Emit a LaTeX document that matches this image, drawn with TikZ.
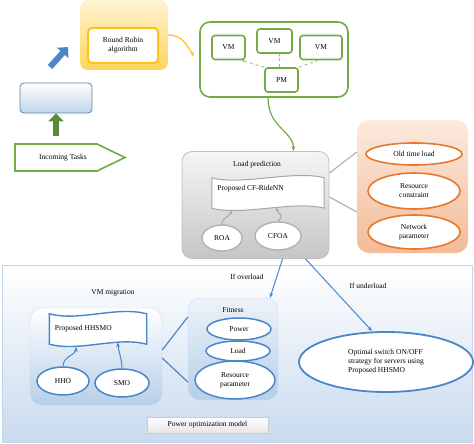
\documentclass[tikz,border=0pt]{standalone}
\usepackage{fontspec}
\setmainfont{Liberation Serif}
\usetikzlibrary{arrows.meta,shapes.geometric}

\definecolor{grn}{HTML}{6FAC46}
\definecolor{org}{HTML}{E9772E}
\definecolor{blu}{HTML}{4A86C8}
\definecolor{ylw}{HTML}{FFC21A}

% wavy document outline round a named node
\newcommand{\wavy}[2]{%
  \draw[#2] (#1.north west) .. controls +(30,8) and +(-30,-8) .. (#1.north east)
    -- (#1.south east) .. controls +(-30,-8) and +(30,8) .. (#1.south west) -- cycle;}

\begin{document}
\begin{tikzpicture}[x=1pt,y=-1pt,
    font=\fontsize{7.5}{9}\selectfont,
    vmbox/.style={draw=grn, line width=1.6pt, rounded corners=3pt, fill=white, minimum height=24pt},
    grayoval/.style={ellipse, draw=gray!60, line width=1.4pt, fill=white, inner sep=1pt},
    orgoval/.style={ellipse, draw=org, line width=1.6pt, fill=white, inner sep=1pt, align=center},
    bluoval/.style={ellipse, draw=blu, line width=1.5pt, fill=white, inner sep=1pt, align=center},
    fatarrow/.style={line width=6pt, -{Triangle[length=8pt,width=15pt]}},
    dasharrow/.style={grn!75, dashed, line width=0.8pt, -{Stealth[length=3pt]}},
    grayarrow/.style={gray!70, line width=1pt, -{Stealth[length=4pt]}},
    bluarrow/.style={blu, line width=1pt, -{Stealth[length=5pt]}}]

        \useasboundingbox (0,0) rectangle (474,444);

        % lower panel
        \node (panel) [draw=blu!35, top color=white, bottom color=blu!30, minimum width=470pt, minimum height=177pt] at (237,353.5) {};

        % round robin
        \node (rrbg) [rounded corners=8pt, top color=ylw!20, bottom color=ylw!70, minimum width=88pt, minimum height=70pt] at (124,35) {};
        \node (rr) [draw=ylw, line width=2pt, rounded corners=4pt, fill=white, minimum width=70pt, minimum height=35pt, align=center] at (123,45.5) {Round Robin\\algorithm};

        % task queue and incoming tasks
        \node (queue) [draw=blu!50!gray, line width=0.8pt, rounded corners=4pt, top color=white, bottom color=blu!35, minimum width=72pt, minimum height=30pt] at (56,98) {};
        \draw [draw=grn, line width=1.6pt, fill=white] (15,144) -- (97,144) -- (125,157.5) -- (97,171) -- (15,171) -- cycle;
        \node (task) at (63,157.5) {Incoming Tasks};
        \coordinate (bs) at (50,67);
        \coordinate (be) at (68,47);
        \coordinate (gs) at (56,136);

        % host with VMs
        \node (host) [draw=grn, line width=1.6pt, rounded corners=10pt, fill=white, minimum width=148pt, minimum height=75pt] at (274,59.5) {};
        \foreach \n/\x/\y/\w in {vma/228.5/47.5/33, vmb/274.5/41/35, vmc/321/47.5/42}
        {
          \node (\n) [vmbox, minimum width=\w pt] at (\x,\y) {VM};
        }
        \node (pm) [vmbox, minimum width=33pt] at (281.5,80) {PM};

        % load prediction
        \node (lp) [draw=gray!50, line width=0.8pt, rounded corners=10pt, top color=gray!8, bottom color=gray!45, minimum width=147pt, minimum height=107pt] at (255.5,205) {};
        \node (lpt) at (257,165) {Load prediction};
        \node (cf) [minimum width=112pt, minimum height=30pt] at (268,193) {};
        \wavy{cf}{draw=gray!70, line width=1pt, fill=white}
        \node (cft) [anchor=west] at ([xshift=2pt,yshift=4pt]cf.west) {Proposed CF-RideNN};
        \node (roa) [grayoval, minimum width=40pt, minimum height=26pt] at (222,238) {ROA};
        \node (cfoa) [grayoval, minimum width=46pt, minimum height=28pt] at (278,236) {CFOA};

        % inputs of load prediction
        \node (oc) [rounded corners=12pt, top color=org!15, bottom color=org!50, minimum width=111pt, minimum height=133pt] at (412.5,186.5) {};
        \node (old) [orgoval, minimum width=96pt, minimum height=22pt] at (414,154) {Old time load};
        \node (res) [orgoval, minimum width=92pt, minimum height=36pt] at (414,191) {Resource\\constraint};
        \node (net) [orgoval, minimum width=92pt, minimum height=34pt] at (414,232) {Network\\parameter};

        % VM migration
        \node (vmt) at (113,293) {VM migration};
        \node (mig) [draw=blu!30, rounded corners=12pt, top color=white, bottom color=blu!40, minimum width=132pt, minimum height=97pt] at (96,356.5) {};
        \node (hs) [minimum width=97pt, minimum height=30pt] at (98,329) {};
        \wavy{hs}{draw=blu, line width=1.4pt, fill=white}
        \node (hst) [anchor=west] at ([xshift=2pt]hs.west) {Proposed HHSMO};
        \node (hho) [bluoval, minimum width=52pt, minimum height=28pt] at (63,381) {HHO};
        \node (smo) [bluoval, minimum width=54pt, minimum height=28pt] at (122,383) {SMO};

        % fitness
        \node (fit) [draw=blu!30, rounded corners=12pt, top color=blu!10, bottom color=blu!40, minimum width=90pt, minimum height=102pt] at (233,349) {};
        \node (fitt) at (233,310) {Fitness};
        \node (pow) [bluoval, minimum width=64pt, minimum height=22pt] at (239,329) {Power};
        \node (lod) [bluoval, minimum width=64pt, minimum height=20pt] at (238,351) {Load};
        \node (rp) [bluoval, minimum width=80pt, minimum height=38pt] at (235,380) {Resource\\parameter};

        % model and switch strategy
        \node (pom) [draw=gray!40, top color=white, bottom color=gray!20, minimum width=121pt, minimum height=16pt] at (207.5,425) {Power optimization model};
        \node (opt) [bluoval, line width=1.8pt, align=left, minimum width=174pt, minimum height=60pt] at (386,362) {Optimal switch ON/OFF\\strategy for servers using\\Proposed HHSMO};
        \node (ovl) at (247,277) {If overload};
        \node (unl) at (368,286) {If underload};

        % connectors
        \draw [fatarrow, blu] (bs) -- (be);
        \draw [fatarrow, grn!80!black] (gs) -- (queue.south);
        \draw [ylw, line width=1.2pt, -{Stealth[length=5pt]}] (rrbg.east) .. controls +(14,0) and +(-8,-12) .. ([xshift=-5pt,yshift=3pt]host.west);
        \draw [dasharrow] (pm.north west) -- ([xshift=-4pt]vma.south east);
        \draw [dasharrow] ([xshift=-2pt]pm.north) -- ([xshift=5pt]vmb.south);
        \draw [dasharrow] (pm.north east) -- ([xshift=-3pt]vmc.south);
        \draw [grn, line width=1.2pt, -{Stealth[length=5pt]}] ([xshift=-6pt]host.south) .. controls +(0,30) and +(0,-20) .. ([xshift=38pt]lp.north);
        \draw [grayarrow] (roa.north) .. controls +(0,-8) and +(-3,8) .. ([xshift=-36pt,yshift=-2pt]cf.south);
        \draw [grayarrow] (cfoa.north) .. controls +(8,-8) and +(0,8) .. ([xshift=9pt,yshift=1pt]cf.south);
        \draw [gray!60, line width=1.2pt] ([yshift=32pt]lp.east) -- ([yshift=34.5pt]oc.west);
        \draw [gray!60, line width=1.2pt] ([yshift=8pt]lp.east) -- ([yshift=-25.5pt]oc.west);
        \draw [bluarrow] ([xshift=27pt]lp.south) -- ([xshift=37pt]fit.north);
        \draw [bluarrow] ([xshift=50pt]lp.south) -- ([xshift=-14pt]opt.north);
        \draw [blu, line width=1.2pt] ([yshift=6.5pt]mig.east) -- ([yshift=32pt]fit.west);
        \draw [blu, line width=1.2pt] ([yshift=-1.5pt]mig.east) -- ([yshift=-33pt]fit.west);
        \draw [bluarrow] (hho.north) .. controls +(0,-10) and +(0,8) .. ([xshift=-22pt,yshift=-2.5pt]hs.south);
        \draw [bluarrow] (smo.north) .. controls +(0,-10) and +(0,8) .. ([xshift=20pt,yshift=2pt]hs.south);

\end{tikzpicture}
\end{document}
